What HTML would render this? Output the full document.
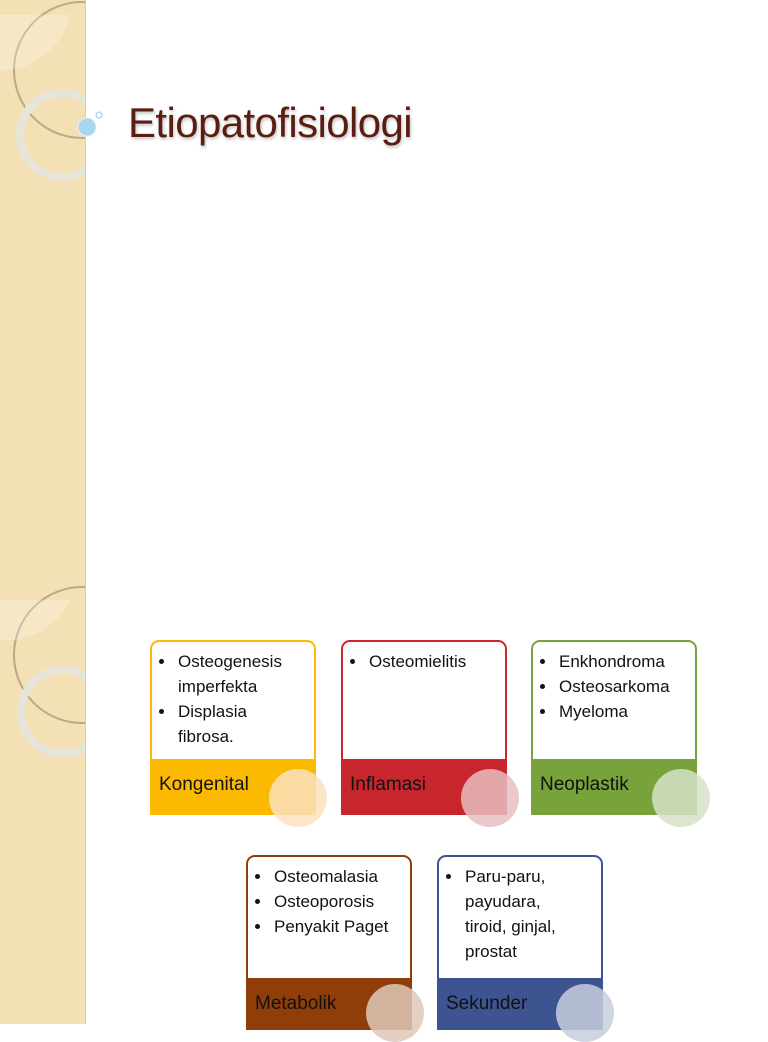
<!DOCTYPE html>
<html><head><meta charset="utf-8"><style>
body{margin:0;width:768px;height:1024px;overflow:hidden;background:#fff;font-family:"Liberation Sans",sans-serif;position:relative}
.side{position:absolute;left:0;top:0;width:85px;height:1024px;background:#f3e0b5;border-right:1px solid #e2cf9f}
.title{position:absolute;left:128px;top:99px;font-size:42px;color:#5a1d12;text-shadow:1px 2px 3px rgba(0,0,0,.25);letter-spacing:-0.6px}
.box{position:absolute;width:162px;border:2px solid;border-radius:9px 9px 0 0;background:#fff;overflow:hidden}
.box ul{margin:0;padding:7px 0 0 24px;font-size:17px;line-height:25px;color:#111;height:115px;box-sizing:border-box}
.box li{padding-left:2px}
.band{position:absolute;left:0;bottom:0;width:100%;height:54px;font-size:19px;color:#111;padding:15px 0 0 7px;box-sizing:border-box}
.circ{position:absolute;width:58px;height:58px;border-radius:50%}
</style></head><body>
<div class="side"></div>
<svg width="768" height="1024" style="position:absolute;left:0;top:0">
<defs><clipPath id="c"><rect x="0" y="0" width="85" height="1024"/></clipPath></defs>
<g fill="none" clip-path="url(#c)">
<circle cx="82" cy="70" r="68" stroke="#b9a98a" stroke-width="2"/>
<circle cx="62" cy="135" r="42" stroke="#e9e4da" stroke-width="8"/>
<circle cx="82" cy="655" r="68" stroke="#b9a98a" stroke-width="2"/>
<circle cx="63" cy="712" r="42" stroke="#e9e4da" stroke-width="8"/>
<path d="M0 15 L70 15 A70 70 0 0 1 0 70 Z" fill="rgba(255,255,255,.25)"/>
<path d="M0 600 L70 600 A70 70 0 0 1 0 640 Z" fill="rgba(255,255,255,.25)"/>
</g>
<circle cx="87" cy="127" r="9" fill="#a8d6ef" stroke="#dff2fb" stroke-width="1"/>
<circle cx="99" cy="115" r="3" fill="none" stroke="#8fc7e6" stroke-width="1"/>
</svg>
<div class="title">Etiopatofisiologi</div>

<div class="box" style="left:150px;top:640px;height:171px;border-color:#fbb900"><ul style="padding-right:30px"><li>Osteogenesis imperfekta</li><li>Displasia fibrosa.</li></ul><div class="band" style="background:#fbb900">Kongenital</div></div>
<div class="box" style="left:341px;top:640px;height:171px;border-color:#c8262d"><ul><li>Osteomielitis</li></ul><div class="band" style="background:#c8262d">Inflamasi</div></div>
<div class="box" style="left:531px;top:640px;height:171px;border-color:#78a33a"><ul><li>Enkhondroma</li><li>Osteosarkoma</li><li>Myeloma</li></ul><div class="band" style="background:#78a33a">Neoplastik</div></div>
<div class="box" style="left:246px;top:855px;height:171px;border-color:#8f3e0a"><ul><li>Osteomalasia</li><li>Osteoporosis</li><li>Penyakit Paget</li></ul><div class="band" style="background:#8f3e0a;height:50px">Metabolik</div></div>
<div class="box" style="left:437px;top:855px;height:171px;border-color:#3d5490"><ul style="padding-right:40px"><li>Paru-paru, payudara, tiroid, ginjal, prostat</li></ul><div class="band" style="background:#3d5490;height:50px">Sekunder</div></div>

<div class="circ" style="left:269px;top:769px;background:rgba(252,224,190,.85)"></div>
<div class="circ" style="left:461px;top:769px;background:rgba(232,190,192,.85)"></div>
<div class="circ" style="left:652px;top:769px;background:rgba(214,226,200,.85)"></div>
<div class="circ" style="left:366px;top:984px;background:rgba(222,200,184,.85)"></div>
<div class="circ" style="left:556px;top:984px;background:rgba(200,206,222,.85)"></div>
</body></html>
